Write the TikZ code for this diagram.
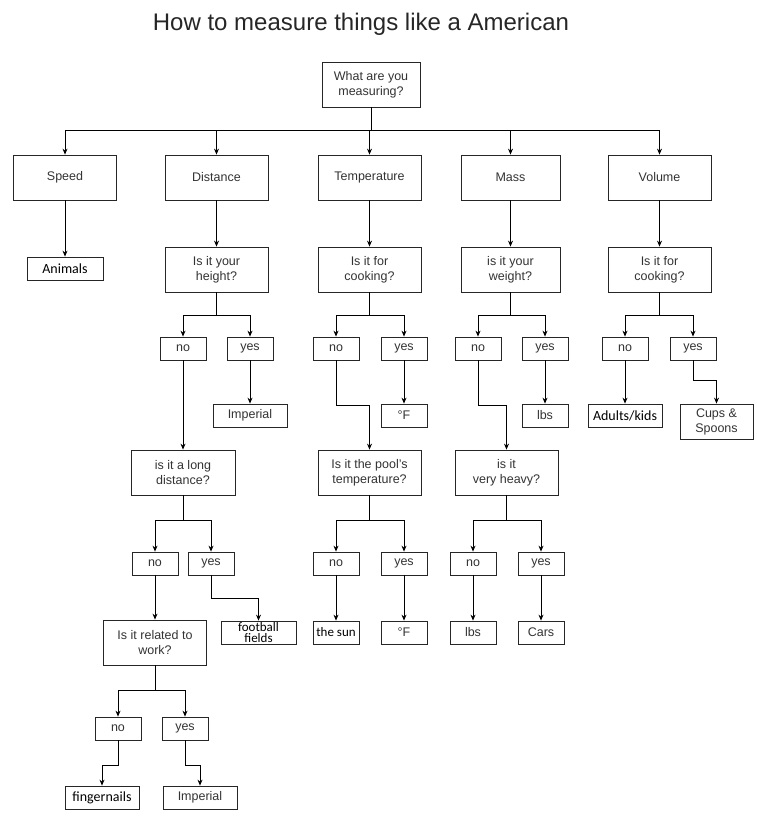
\documentclass[tikz,border=0pt]{standalone}
\usepackage{fontspec}
\setmainfont{Liberation Sans}
\newfontfamily\leaffont{Carlito}
\usetikzlibrary{arrows.meta}
\begin{document}
\begin{tikzpicture}[x=1pt,y=-1pt,
  box/.style={draw=black!85, line width=0.8pt, fill=white, align=center, font=\fontsize{12.5}{15}\selectfont\color{black!80}, inner sep=1pt},
  q/.style={box, minimum width=103, minimum height=45},
  yn/.style={box, minimum width=46, minimum height=23},
  leaf/.style={box, minimum width=74, minimum height=23},
  cleaf/.style={leaf, font=\leaffont\fontsize{14}{12}\selectfont\color{black}},
  arr/.style={draw=black, line width=0.8pt, -{Stealth[length=6pt,width=5pt]}},
  ln/.style={draw=black, line width=0.8pt}]
\useasboundingbox (0,0) rectangle (757,822);
\node[font=\fontsize{24}{28}\selectfont\color{black!85}] (title) at (361,24) {How to measure things like a American};
\node[box, minimum width=98, minimum height=45] (root) at (371,84.5) {What are you\\measuring?};
\node[q] (speed) at (65,177.5) {Speed};
\node[q] (dist) at (216.5,177.5) {Distance};
\node[q] (temp) at (369.5,177.5) {Temperature};
\node[box, minimum width=99, minimum height=45] (mass) at (510.5,177.5) {Mass};
\node[q] (vol) at (659.5,177.5) {Volume};
\foreach \t in {speed,dist,temp,mass,vol}{\draw[arr] (root.south) -- ++(0,23) -| (\t.north);}
% Speed
\node[cleaf, minimum width=76] (animals) at (65,268.5) {Animals};
\draw[arr] (speed.south) -- (animals.north);
% level 2 questions
\node[q] (height) at (216.5,269.5) {Is it your\\height?};
\node[q] (cook) at (369.5,269.5) {Is it for\\cooking?};
\node[box, minimum width=99, minimum height=45] (weight) at (510.5,269.5) {is it your\\weight?};
\node[q] (vcook) at (659.5,269.5) {Is it for\\cooking?};
\draw[arr] (dist) -- (height); \draw[arr] (temp) -- (cook); \draw[arr] (mass) -- (weight); \draw[arr] (vol) -- (vcook);
% yes/no row 1
\node[yn] (dno) at (183,348.5) {no}; \node[yn] (dyes) at (250,348.5) {yes};
\node[yn] (tno) at (336,348.5) {no}; \node[yn] (tyes) at (404,348.5) {yes};
\node[yn] (mno) at (478,348.5) {no}; \node[yn] (myes) at (545,348.5) {yes};
\node[yn] (vno) at (625,348.5) {no}; \node[yn] (vyes) at (693,348.5) {yes};
\draw[arr] (height.south) -- ++(0,23) -| (dno.north); \draw[arr] (height.south) -- ++(0,23) -| (dyes.north);
\draw[arr] (cook.south) -- ++(0,23) -| (tno.north); \draw[arr] (cook.south) -- ++(0,23) -| (tyes.north);
\draw[arr] (weight.south) -- ++(0,23) -| (mno.north); \draw[arr] (weight.south) -- ++(0,23) -| (myes.north);
\draw[arr] (vcook.south) -- ++(0,23) -| (vno.north); \draw[arr] (vcook.south) -- ++(0,23) -| (vyes.north);
% leaves row 1
\node[leaf] (imp1) at (250,415.5) {Imperial}; \draw[arr] (dyes) -- (imp1);
\node[yn] (f1) at (404,415.5) {°F}; \draw[arr] (tyes) -- (f1);
\node[yn] (lbs1) at (545,415.5) {lbs}; \draw[arr] (myes) -- (lbs1);
\node[cleaf] (adults) at (625,415.5) {Adults/kids}; \draw[arr] (vno) -- (adults);
\node[box, minimum width=73, minimum height=35] (cups) at (716.5,421.5) {Cups \&\\Spoons};
\draw[arr] (vyes.south) -- ++(0,20) -| (cups.north);
% level 3 questions
\node[box, minimum width=104, minimum height=45] (long) at (183,472.5) {is it a long\\distance?};
\node[q] (pool) at (369.5,472.5) {Is it the pool's\\temperature?};
\node[q] (heavy) at (506.5,472.5) {is it\\very heavy?};
\draw[arr] (dno) -- (long);
\draw[arr] (tno.south) -- ++(0,45) -| (pool.north);
\draw[arr] (mno.south) -- ++(0,45) -| (heavy.north);
% yes/no row 2
\node[yn] (lno) at (155,563.5) {no}; \node[yn] (lyes) at (211,563.5) {yes};
\node[yn] (pno) at (336,563.5) {no}; \node[yn] (pyes) at (404,563.5) {yes};
\node[yn] (hno) at (473,563.5) {no}; \node[yn] (hyes) at (541,563.5) {yes};
\draw[arr] (long.south) -- ++(0,25) -| (lno.north); \draw[arr] (long.south) -- ++(0,25) -| (lyes.north);
\draw[arr] (pool.south) -- ++(0,25) -| (pno.north); \draw[arr] (pool.south) -- ++(0,25) -| (pyes.north);
\draw[arr] (heavy.south) -- ++(0,25) -| (hno.north); \draw[arr] (heavy.south) -- ++(0,25) -| (hyes.north);
% leaves row 2
\node[cleaf, minimum width=75, font=\leaffont\fontsize{13}{8}\selectfont\color{black}] (football) at (258.5,632.5) {football\\fields};
\draw[arr] (lyes.south) -- ++(0,23) -| (football.north);
\node[yn, font=\leaffont\fontsize{13}{9}\selectfont\color{black}] (sun) at (336,632.5) {the sun}; \draw[arr] (pno) -- (sun);
\node[yn] (f2) at (404,632.5) {°F}; \draw[arr] (pyes) -- (f2);
\node[yn] (lbs2) at (473,632.5) {lbs}; \draw[arr] (hno) -- (lbs2);
\node[yn] (cars) at (541,632.5) {Cars}; \draw[arr] (hyes) -- (cars);
\node[q] (work) at (155,642.5) {Is it related to\\work?};
\draw[arr] (lno) -- (work);
\node[yn] (wno) at (118,728.5) {no}; \node[yn] (wyes) at (185,728.5) {yes};
\draw[arr] (work.south) -- ++(0,25) -| (wno.north); \draw[arr] (work.south) -- ++(0,25) -| (wyes.north);
\node[cleaf] (finger) at (102,797.5) {fingernails};
\node[leaf] (imp2) at (200,797.5) {Imperial};
\draw[arr] (wno.south) -- ++(0,25) -| (finger.north);
\draw[arr] (wyes.south) -- ++(0,25) -| (imp2.north);
\end{tikzpicture}
\end{document}
